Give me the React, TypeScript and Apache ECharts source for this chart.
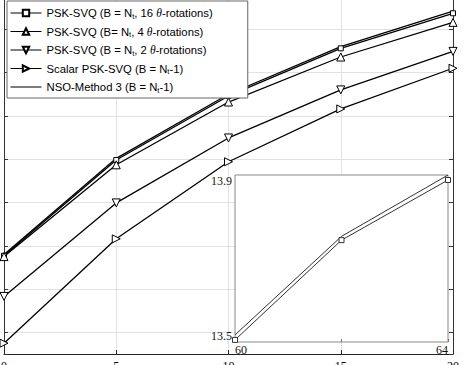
import React, { useEffect, useRef } from 'react';
import * as echarts from 'echarts';

// Main plot data (x ticks, series values)
const xValues = [0, 5, 10, 15, 20];
const xTickLabels = ['0', '5', '10', '15', '20'];
const psk16 = [7.77, 9.98, 11.46, 12.56, 13.37];
const psk4 = [7.75, 9.87, 11.32, 12.36, 13.16];
const psk2 = [6.83, 8.99, 10.49, 11.6, 12.49];
const scalarPsk = [5.75, 8.16, 9.94, 11.16, 12.1];
const nso = [7.8, 10.02, 11.5, 12.6, 13.42];

// Inset (zoomed) data
const insetX = [60, 62, 64];
const insetPsk16 = [13.505, 13.744, 13.888];
const insetNso = [13.517, 13.753, 13.9];
const insetYLabels = ['13.5', '13.9'];
const insetXLabels = ['60', '64'];

const names = [
  'PSK-SVQ (B = Nt, 16 θ-rotations)',
  'PSK-SVQ (B= Nt, 4 θ-rotations)',
  'PSK-SVQ (B = Nt, 2 θ-rotations)',
  'Scalar PSK-SVQ (B = Nt-1)',
  'NSO-Method 3 (B = Nt-1)',
];
const richNames: Record<string, string> = {
  [names[0]]: '{t|PSK-SVQ (B = N}{sub|t}{t|, 16 }{it|θ}{t|-rotations)}',
  [names[1]]: '{t|PSK-SVQ (B= N}{sub|t}{t|, 4 }{it|θ}{t|-rotations)}',
  [names[2]]: '{t|PSK-SVQ (B = N}{sub|t}{t|, 2 }{it|θ}{t|-rotations)}',
  [names[3]]: '{t|Scalar PSK-SVQ (B = N}{sub|t}{t|-1)}',
  [names[4]]: '{t|NSO-Method 3 (B = N}{sub|t}{t|-1)}',
};

const pair = (xs: number[], ys: number[]) => xs.map((x, i) => [x, ys[i]]);

export default function App() {
  const ref = useRef<HTMLDivElement>(null);
  useEffect(() => {
    if (!ref.current) return;
    const chart = echarts.init(ref.current, null, { renderer: 'svg' });
    const markerStyle = { color: '#fff', borderColor: '#000', borderWidth: 1 };
    const lineStyle = { color: '#000', width: 1.3 };
    const mainSeries = (name: string, data: number[], symbol: string, size: number, rotate = 0) => ({
      name,
      type: 'line',
      xAxisIndex: 0,
      yAxisIndex: 0,
      data: pair(xValues, data),
      symbol,
      symbolSize: size,
      symbolRotate: rotate,
      showSymbol: symbol !== 'none',
      itemStyle: markerStyle,
      lineStyle,
      z: 2,
    });
    const option: any = {
      animation: false,
      backgroundColor: '#fff',
      legend: {
        left: 7,
        top: 1,
        orient: 'vertical',
        padding: [5, 35, 4, 3],
        itemGap: 4.5,
        itemWidth: 31,
        itemHeight: 8,
        backgroundColor: '#fff',
        borderColor: '#666',
        borderWidth: 1,
        selectedMode: false,
        z: 6,
        lineStyle: { width: 1 },
        data: [
          { name: names[0] },
          { name: names[1] },
          { name: names[2] },
          { name: names[3] },
          { name: names[4], icon: 'path://M0,0 H30 V1 H0 Z', itemStyle: { color: '#000', borderWidth: 0 } },
        ],
        formatter: (n: string) => richNames[n] || n,
        textStyle: {
          fontFamily: 'Liberation Sans',
          fontSize: 11.3,
          color: '#000',
          rich: {
            t: { fontFamily: 'Liberation Sans', fontSize: 11.3, lineHeight: 14, color: '#000' },
            sub: { fontFamily: 'Liberation Sans', fontSize: 7.5, lineHeight: 8, padding: [6, 0, 0, 0], color: '#000' },
            it: { fontFamily: 'Liberation Serif', fontStyle: 'italic', fontSize: 11.5, lineHeight: 14, color: '#000' },
          },
        },
      },
      grid: [
        { left: 4, right: 21, top: -14, bottom: 11, outerBoundsMode: 'none', containLabel: false },
        {
          left: 235, top: 175, width: 213, height: 167, show: true, outerBoundsMode: 'none',
          backgroundColor: '#fff', borderColor: '#888', borderWidth: 1, z: 3,
        },
      ],
      xAxis: [
        {
          type: 'value', gridIndex: 0, min: 0, max: 20, interval: 5,
          axisLine: { show: true, lineStyle: { color: '#222', width: 1 } },
          axisTick: { show: true, inside: true, length: 4, lineStyle: { color: '#222' } },
          axisLabel: {
            show: true, margin: 6, color: '#000', fontFamily: 'Liberation Serif', fontSize: 12,
            formatter: (v: number) => xTickLabels[xValues.indexOf(v)] ?? '',
          },
          splitLine: { show: true, lineStyle: { color: '#e2e2e2', width: 1 } },
        },
        {
          type: 'value', gridIndex: 1, min: 60, max: 64, interval: 2, z: 4,
          axisLine: { show: false },
          axisTick: { show: true, inside: true, length: 3, lineStyle: { color: '#777' } },
          axisLabel: {
            show: true, margin: 2, color: '#111', fontFamily: 'Liberation Serif', fontSize: 12,
            alignMinLabel: 'left', alignMaxLabel: 'right',
            formatter: (v: number) => (v === insetX[0] ? insetXLabels[0] : v === insetX[insetX.length - 1] ? insetXLabels[1] : ''),
          },
          splitLine: { show: false },
        },
      ],
      yAxis: [
        {
          type: 'value', gridIndex: 0, min: 5.5, max: 14, splitNumber: 8,
          axisLine: { show: true, lineStyle: { color: '#333', width: 1 } },
          axisTick: { show: true, inside: true, length: 4, lineStyle: { color: '#333' } },
          axisLabel: { show: false },
          splitLine: { show: true, lineStyle: { color: '#e2e2e2', width: 1 } },
        },
        {
          type: 'value', gridIndex: 0, position: 'right', min: 5.5, max: 14, splitNumber: 8,
          axisLine: { show: true, onZero: false, lineStyle: { color: '#333', width: 1 } },
          axisTick: { show: true, inside: true, length: 4, lineStyle: { color: '#333' } },
          axisLabel: { show: false },
          splitLine: { show: false },
        },
        {
          type: 'value', gridIndex: 1, min: 13.5, max: 13.9, interval: 0.1, z: 4,
          axisLine: { show: false },
          axisTick: { show: false },
          axisLabel: {
            show: true, margin: 3, color: '#111', fontFamily: 'Liberation Serif', fontSize: 12,
            verticalAlignMinLabel: 'bottom', verticalAlignMaxLabel: 'top',
            formatter: (v: number) => (Math.abs(v - 13.5) < 1e-6 ? insetYLabels[0] : Math.abs(v - 13.9) < 1e-6 ? insetYLabels[1] : ''),
          },
          splitLine: { show: false },
        },
      ],
      series: [
        mainSeries(names[0], psk16, 'rect', 5),
        mainSeries(names[1], psk4, 'triangle', 8),
        mainSeries(names[2], psk2, 'triangle', 8, 180),
        mainSeries(names[3], scalarPsk, 'triangle', 8, -90),
        { ...mainSeries(names[4], nso, 'none', 0), symbol: 'none' },
        {
          name: 'inset-psk16', type: 'line', xAxisIndex: 1, yAxisIndex: 2,
          data: pair(insetX, insetPsk16), symbol: 'rect', symbolSize: 5,
          itemStyle: { color: '#fff', borderColor: '#333', borderWidth: 1 },
          lineStyle: { color: '#333', width: 1 }, z: 5,
        },
        {
          name: 'inset-nso', type: 'line', xAxisIndex: 1, yAxisIndex: 2,
          data: pair(insetX, insetNso), symbol: 'none',
          lineStyle: { color: '#333', width: 1 }, z: 5,
        },
      ],
    };
    chart.setOption(option);
    return () => chart.dispose();
  }, []);
  return <div ref={ref} style={{ position: 'fixed', left: 0, top: 0, width: 474, height: 365 }} />;
}
